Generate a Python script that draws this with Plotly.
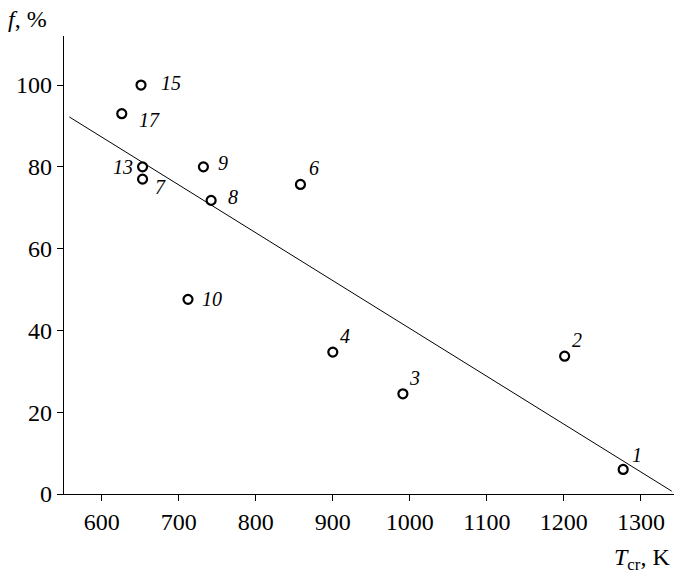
import plotly.graph_objects as go

labels = ["1","2","3","4","6","7","13","8","9","10","15","17"]
t_cr = [1277,1201,991,900,858,653,653,742,732,712,651,626]
f_pct = [6,33.7,24.5,34.7,75.7,77,80,71.8,80,47.6,100,93]
line_x = [558,1340]
line_y = [92.2,0.7]
x_ticks = [600,700,800,900,1000,1100,1200,1300]
y_ticks = [0,20,40,60,80,100]

offs = {"1":(14,14),"2":(12,16),"3":(12,16),"4":(12,16),"6":(14,16),"7":(18,-8),
        "13":(-20,0),"8":(22,3),"9":(20,4),"10":(24,0),"15":(30,2),"17":(28,-6)}

fig = go.Figure()
fig.add_trace(go.Scatter(x=line_x, y=line_y, mode="lines", line=dict(color="black", width=1)))
fig.add_trace(go.Scatter(x=t_cr, y=f_pct, mode="markers",
    marker=dict(symbol="circle-open", size=9, color="black", line=dict(width=2.2))))
for l, x, y in zip(labels, t_cr, f_pct):
    dx, dy = offs[l]
    fig.add_annotation(x=x, y=y, text=f"<i>{l}</i>", showarrow=False, xshift=dx, yshift=dy,
                       font=dict(size=20, family="Liberation Serif", color="black"))
fig.add_annotation(xref="paper", yref="paper", x=0, y=1, xshift=-58, yshift=2, yanchor="bottom", xanchor="left",
                   text="<i>f</i>, %", showarrow=False, font=dict(size=24, family="Liberation Serif", color="black"))
fig.add_annotation(xref="paper", yref="paper", x=1, y=0, xshift=-2, yshift=-48, yanchor="top", xanchor="right",
                   text="<i>T</i><sub>cr</sub>, K", showarrow=False, font=dict(size=24, family="Liberation Serif", color="black"))
ax = dict(showgrid=False, zeroline=False, showline=True, linecolor="black", linewidth=1.2,
          ticks="outside", ticklen=6, tickcolor="black",
          tickfont=dict(size=24, family="Liberation Serif", color="black"))
fig.update_xaxes(range=[551,1343], tickvals=x_ticks, **ax)
fig.update_yaxes(range=[0,112], tickvals=y_ticks, **ax)
fig.update_layout(width=685, height=581, showlegend=False, plot_bgcolor="white", paper_bgcolor="white",
                  margin=dict(l=56, r=19, t=28, b=95, autoexpand=False))
fig.write_html("out.html")
